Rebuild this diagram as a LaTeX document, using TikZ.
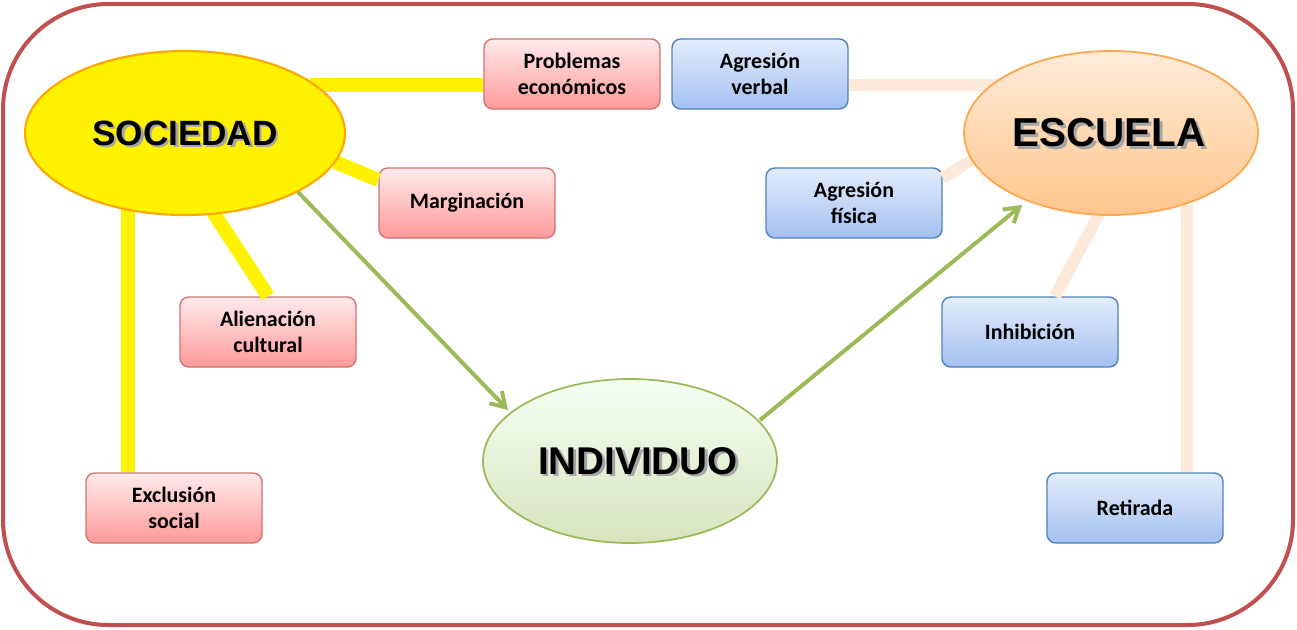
\documentclass[tikz,border=0pt]{standalone}
\usepackage{fontspec}
\setmainfont{Carlito}
\newfontfamily\bigf{Liberation Sans}
\usetikzlibrary{shapes.geometric,arrows.meta}
\definecolor{redb}{HTML}{C0504D}
\definecolor{blueb}{HTML}{4F81BD}
\definecolor{peach}{HTML}{FDE9D9}
\definecolor{grn}{HTML}{9BBB59}
\definecolor{btop}{HTML}{E3EDFC}
\definecolor{bbot}{HTML}{A4C0F0}
\tikzset{
 box/.style={rounded corners=5pt,minimum width=176*0.02cm,minimum height=70*0.02cm,align=center,font=\bfseries\fontsize{12.5}{15}\selectfont,line width=0.8pt},
 rbox/.style={box,draw=redb!80,top color=red!8,bottom color=red!40},
 bbox/.style={box,draw=blueb,top color=btop,bottom color=bbot},
 yl/.style={yellow,line width=14*0.02cm},
 pl/.style={peach,line width=12*0.02cm},
 ga/.style={grn,line width=4*0.02cm,-{Straight Barb[length=8pt,width=10pt]}},
 big/.style={font=\bigf\bfseries\fontsize{#1}{#1}\selectfont}
}
\begin{document}
\begin{tikzpicture}[x=0.02cm,y=-0.02cm]
\useasboundingbox (0,0) rectangle (1297,629);
\draw[redb,line width=4*0.02cm,rounded corners=60] (3,4) rectangle (1293,625);
\node[rbox] (pe) at (572,74) {Problemas\\económicos};
\node[rbox] (ma) at (467,203) {Marginación};
\node[rbox] (al) at (268,332) {Alienación\\cultural};
\node[rbox] (ex) at (174,508) {Exclusión\\social};
\node[bbox] (av) at (760,74) {Agresión\\verbal};
\node[bbox] (af) at (854,203) {Agresión\\física};
\node[bbox] (in) at (1030,332) {Inhibición};
\node[bbox] (re) at (1135,508) {Retirada};
\coordinate (s1) at (310,85); \coordinate (s2) at (335,162);
\coordinate (s3) at (213,212); \coordinate (s4) at (128,205);
\coordinate (e1) at (1000,85); \coordinate (e2) at (975,158);
\coordinate (e3) at (1100,212); \coordinate (e4) at (1187,205);
\coordinate (a1) at (298,192); \coordinate (a2) at (508,410);
\coordinate (b1) at (760,420); \coordinate (b2) at (1022,205);
\draw[yl] (s1) -- (pe.west|-s1);
\draw[yl] (s2) -- (ma.west|-0,180);
\draw[yl] (s3) -- (al.north);
\draw[yl] (s4) -- (ex.north-|s4);
\draw[pl] (av.east|-e1) -- (e1);
\draw[pl] (af.east|-0,178) -- (e2);
\draw[pl] (in.north) ++(25,0) -- (e3);
\draw[pl] (re.north-|e4) -- (e4);
\node[ellipse,draw=orange!70!yellow,line width=1.2pt,fill=yellow,minimum width=320*0.02cm,minimum height=164*0.02cm] (so) at (185,133) {};
\node[ellipse,draw=orange!70,line width=1pt,top color=orange!15,bottom color=orange!45,minimum width=294*0.02cm,minimum height=164*0.02cm] (es) at (1111,133) {};
\node[ellipse,draw=grn,line width=1pt,top color=green!4!white,bottom color=grn!40!white,minimum width=294*0.02cm,minimum height=164*0.02cm] (id) at (630,461) {};
\foreach \n/\t/\s/\dx in {so/SOCIEDAD/20/0,es/ESCUELA/23/-2,id/INDIVIDUO/22/8}{
 \node[big=\s,gray!70] at ([xshift=1.5pt+\dx*0.02cm,yshift=-1.5pt]\n.center) {\t};
 \node[big=\s] at ([xshift=\dx*0.02cm]\n.center) {\t};}
\draw[ga] (a1) -- (a2);
\draw[ga] (b1) -- (b2);
\end{tikzpicture}
\end{document}
